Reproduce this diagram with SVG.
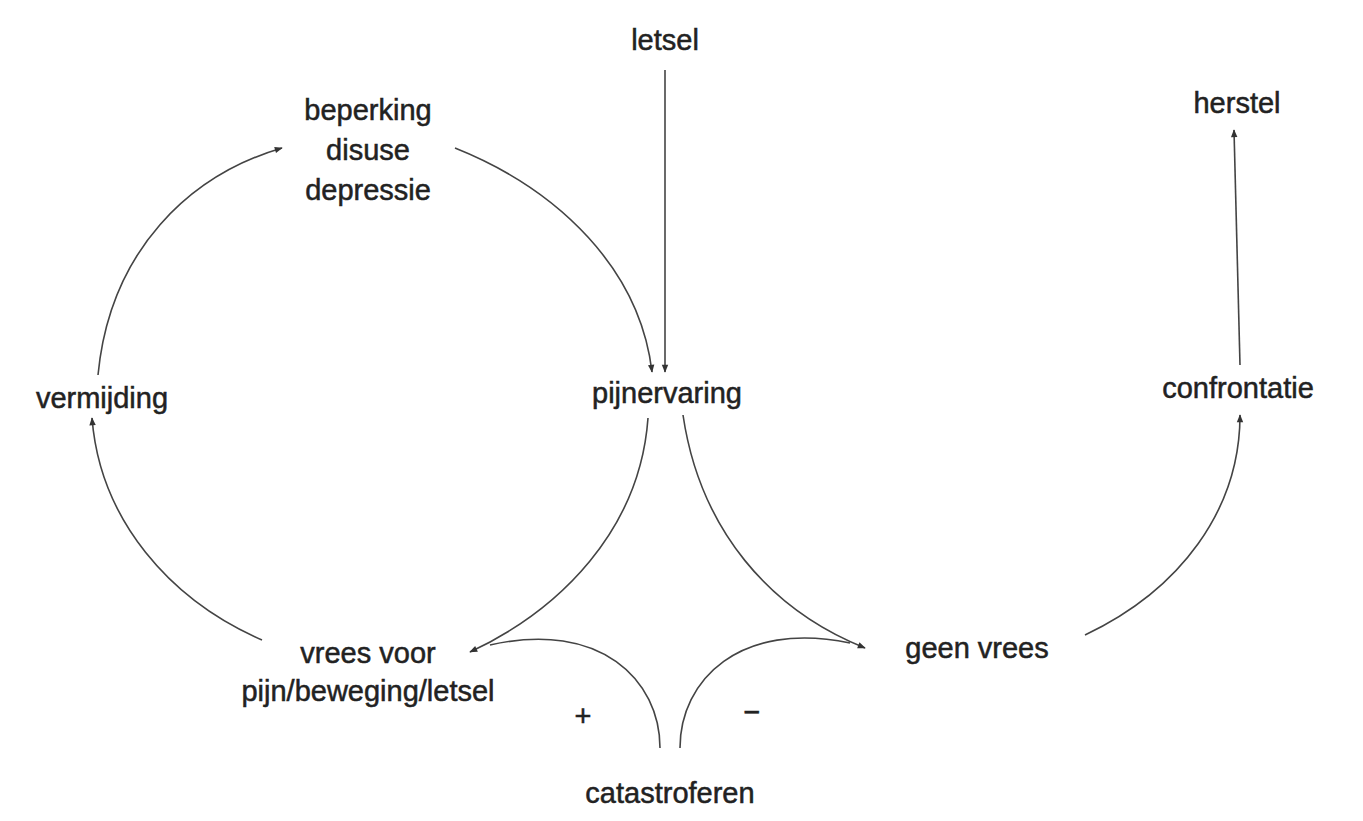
<svg xmlns="http://www.w3.org/2000/svg" width="1363" height="821" viewBox="0 0 1363 821">
<defs><marker id="a" viewBox="0 0 10 10" refX="9" refY="5" markerWidth="10" markerHeight="8" markerUnits="userSpaceOnUse" orient="auto"><path d="M0,1 L10,5 L0,9 z" fill="#333"/></marker></defs>
<style>text{font-family:"Liberation Sans",Arial,sans-serif;font-size:29px;fill:#222;stroke:#222;stroke-width:0.5;text-anchor:middle}.c{fill:none;stroke:#444;stroke-width:1.6}</style>
<rect width="1363" height="821" fill="#fff"/>
<g id="letsel"><text x="665" y="50">letsel</text></g>
<g id="beperking"><text x="368" y="120">beperking</text><text x="368" y="160">disuse</text><text x="368" y="200">depressie</text></g>
<g id="herstel"><text x="1237" y="113">herstel</text></g>
<g id="vermijding"><text x="102" y="408">vermijding</text></g>
<g id="pijnervaring"><text x="667" y="403">pijnervaring</text></g>
<g id="confrontatie"><text x="1238" y="398">confrontatie</text></g>
<g id="vrees"><text x="368" y="663">vrees voor</text><text x="368" y="701">pijn/beweging/letsel</text></g>
<g id="geenvrees"><text x="977" y="658">geen vrees</text></g>
<g id="catastroferen"><text x="670" y="803">catastroferen</text></g>
<g id="signs"><text x="583" y="726" font-size="22">+</text><text x="752" y="722" font-size="22">−</text></g>
<g id="connectors">
<path class="c" d="M665,70 L665,372" marker-end="url(#a)"/>
<path class="c" d="M455,148 C560,190 640,270 652,372" marker-end="url(#a)"/>
<path class="c" d="M648,418 C640,530 560,610 470,652" marker-end="url(#a)"/>
<path class="c" d="M262,640 C170,600 100,520 92,418" marker-end="url(#a)"/>
<path class="c" d="M98,375 C110,250 190,175 282,148" marker-end="url(#a)"/>
<path class="c" d="M683,415 C700,530 770,610 865,648" marker-end="url(#a)"/>
<path class="c" d="M1085,635 C1180,590 1240,510 1240,415" marker-end="url(#a)"/>
<path class="c" d="M1240,365 L1234,130" marker-end="url(#a)"/>
<path class="c" d="M660,748 C660,680 600,620 490,645"/>
<path class="c" d="M680,748 C680,680 740,620 850,643"/>
</g>
</svg>
